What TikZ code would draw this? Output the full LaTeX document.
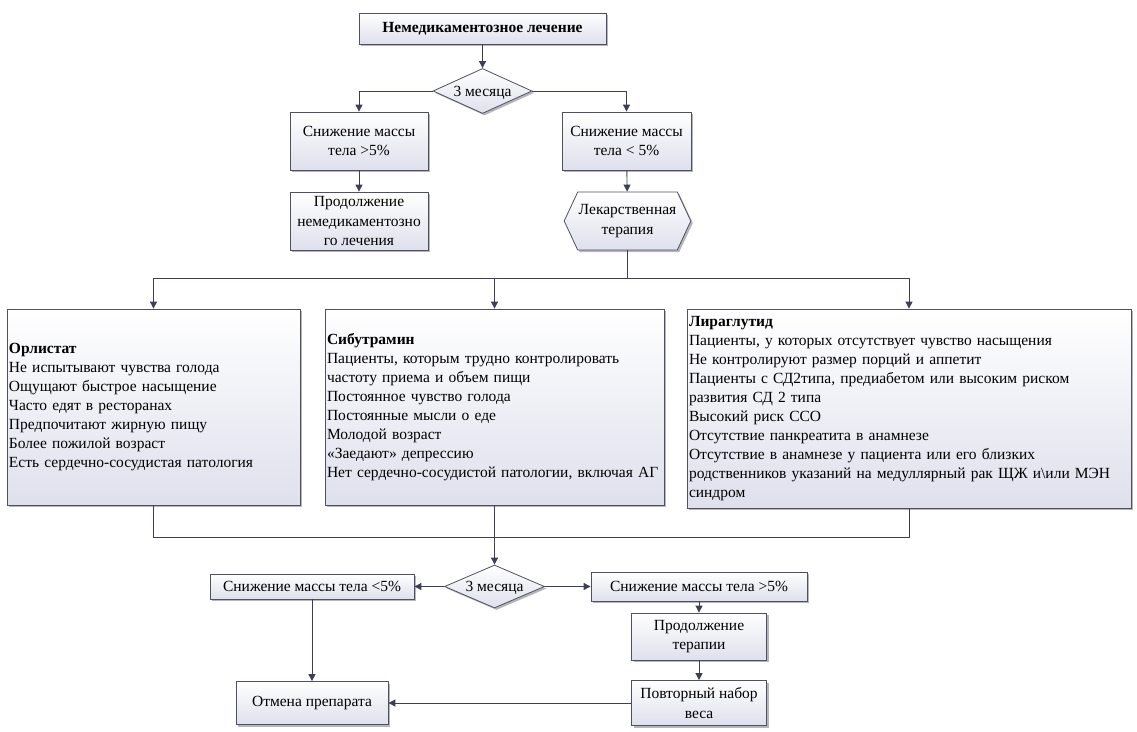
\documentclass[tikz,border=0pt]{standalone}
\usepackage{fontspec}
\setmainfont{Liberation Serif}
\usetikzlibrary{shapes.geometric,shapes.symbols,shadows,arrows.meta}
\definecolor{edgec}{RGB}{80,80,96}
\definecolor{linec}{RGB}{60,63,85}
\definecolor{fillb}{RGB}{222,224,236}
\definecolor{shadc}{RGB}{150,150,160}
\tikzset{
 box/.style={draw=edgec, line width=0.8pt, top color=white, bottom color=fillb,
   drop shadow={shadow xshift=2pt, shadow yshift=-2pt, fill=shadc, opacity=0.7},
   inner sep=1pt, align=center, font=\fontsize{15.5}{19.5}\selectfont},
 bigbox/.style={box, align=left, inner sep=1pt, font=\fontsize{15.5}{19}\selectfont},
 dia/.style={box, diamond, inner sep=0pt, text depth=0pt},
 arr/.style={draw=linec, line width=0.9pt, -{Triangle[length=7pt,width=7pt]}},
 ln/.style={draw=linec, line width=0.9pt},
}
\begin{document}
\begin{tikzpicture}[x=1pt,y=-1pt]
\useasboundingbox (0,0) rectangle (1137,731);
% top part
\node[box, minimum width=247pt, minimum height=31pt, font=\fontsize{15.5}{19}\selectfont\bfseries] (top) at (482.5,28.5) {Немедикаментозное лечение};
\node[dia, minimum width=99pt, minimum height=45pt] (d1) at (482.5,91) {\makebox[0pt]{3 месяца}};
\node[box, minimum width=138pt, minimum height=58pt] (b1) at (359,141) {Снижение массы\\тела >5\%};
\node[box, minimum width=129pt, minimum height=58pt] (b2) at (626.5,141) {Снижение массы\\тела < 5\%};
\node[box, minimum width=138pt, minimum height=58pt] (p1) at (359,221) {Продолжение\\немедикаментозно\\го лечения};
\node[box, shape=signal, signal to=west and east, signal pointer angle=130, minimum width=121pt, minimum height=58pt] (lek) at (627.5,221) {Лекарственная\\терапия};
% big boxes
\node[bigbox, minimum width=293pt, minimum height=196pt, text width=289pt] (orl) at (153.5,407) {\textbf{Орлистат}\\Не испытывают чувства голода\\Ощущают быстрое насыщение\\Часто едят в ресторанах\\Предпочитают жирную пищу\\Более пожилой возраст\\Есть сердечно-сосудистая патология};
\node[bigbox, minimum width=339pt, minimum height=196pt, text width=335pt] (sib) at (494.5,407) {\textbf{Сибутрамин}\\Пациенты, которым трудно контролировать\\частоту приема и объем пищи\\Постоянное чувство голода\\Постоянные мысли о еде\\Молодой возраст\\«Заедают» депрессию\\Нет сердечно-сосудистой патологии, включая АГ};
\node[bigbox, minimum width=444pt, minimum height=199pt, text width=440pt] (lir) at (909,408.5) {\textbf{Лираглутид}\\Пациенты, у которых отсутствует чувство насыщения\\Не контролируют размер порций и аппетит\\Пациенты с СД2типа, предиабетом или высоким риском\\развития СД 2 типа\\Высокий риск ССО\\Отсутствие панкреатита в анамнезе\\Отсутствие в анамнезе у пациента или его близких\\родственников указаний на медуллярный рак ЩЖ и\textbackslash или МЭН\\синдром};
% bottom part
\node[dia, minimum width=100pt, minimum height=43pt] (d2) at (494.5,586.5) {\makebox[0pt]{3 месяца}};
\node[box, minimum width=204pt, minimum height=25pt] (lt) at (312,586.5) {Снижение массы тела <5\%};
\node[box, minimum width=216pt, minimum height=29pt] (rt) at (699,586.5) {Снижение массы тела >5\%};
\node[box, minimum width=135pt, minimum height=47pt] (pr2) at (699,636.5) {Продолжение\\терапии};
\node[box, minimum width=135pt, minimum height=45pt] (pov) at (699,703) {Повторный набор\\веса};
\node[box, minimum width=152pt, minimum height=43pt] (otm) at (312,703) {Отмена препарата};
% junctions
\coordinate (j1) at (lek.south |- 0,278);
\coordinate (j2) at (sib.north |- 0,278);
\coordinate (j3) at (sib.south |- 0,537);
% connectors
\draw[arr] (top) -- (d1);
\draw[arr] (d1.west) -| (b1);
\draw[arr] (d1.east) -| (b2);
\draw[arr] (b1) -- (p1);
\draw[arr] (b2) -- (lek);
\draw[ln] (lek.south) -- (j1);
\draw[arr] (j1) -| (orl);
\draw[arr] (j1) -| (lir);
\draw[arr] (j2) -- (sib);
\draw[ln] (orl.south) |- (j3);
\draw[ln] (lir.south) |- (j3);
\draw[arr] (sib) -- (d2);
\draw[arr] (d2) -- (lt);
\draw[arr] (d2) -- (rt);
\draw[arr] (lt) -- (otm);
\draw[arr] (rt) -- (pr2);
\draw[arr] (pr2) -- (pov);
\draw[arr] (pov) -- (otm);
\end{tikzpicture}
\end{document}
